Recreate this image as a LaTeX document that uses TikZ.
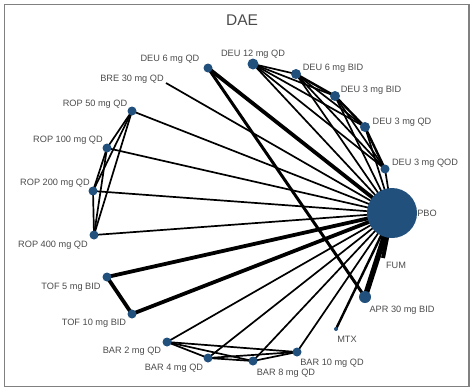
\documentclass[tikz,border=0pt]{standalone}
\usepackage{fontspec}
\setmainfont{Liberation Sans}
\usetikzlibrary{backgrounds}
\definecolor{nodeblue}{RGB}{33,80,125}
\definecolor{labelgray}{RGB}{75,75,75}
\begin{document}
\begin{tikzpicture}[x=1pt, y=-1pt,
trtnode/.style={circle, fill=nodeblue, inner sep=0pt, minimum size=9pt},
trtlabel/.style={text=labelgray, font=\fontsize{9.2}{10}\selectfont, inner sep=0pt},
thinedge/.style={line width=1.7pt},
midedge/.style={line width=2.4pt},
thickedge/.style={line width=3.8pt}]

\useasboundingbox (0,0) rectangle (474,391);
\draw[gray, line width=1.5pt] (4.5,4.5) rectangle (469,386.5);

\node[text=labelgray, font=\fontsize{15.5}{17}\selectfont](title) at (242, 20){DAE};

% treatments round the circle
\node[trtnode, minimum size=50pt](pbo) at (392, 213){};
\node[trtnode, minimum size=0pt](fum) at (383, 258){};
\node[trtnode, minimum size=12pt](apr) at (365, 297){};
\node[trtnode, minimum size=4pt](mtx) at (336, 329){};
\node[trtnode](bar10) at (297, 352){};
\node[trtnode](bar8) at (253, 361){};
\node[trtnode](bar4) at (208, 358){};
\node[trtnode](bar2) at (167, 342){};
\node[trtnode](tof10) at (132, 314){};
\node[trtnode](tof5) at (107, 277){};
\node[trtnode](rop400) at (94, 235){};
\node[trtnode](rop200) at (93, 191){};
\node[trtnode](rop100) at (107, 148){};
\node[trtnode](rop50) at (132, 111){};
\node[trtnode, minimum size=0pt](bre) at (166, 83){};
\node[trtnode](deu6qd) at (208, 68){};
\node[trtnode, minimum size=11pt](deu12qd) at (253, 64){};
\node[trtnode, minimum size=10pt](deu6bid) at (296, 74){};
\node[trtnode, minimum size=10pt](deu3bid) at (335, 96){};
\node[trtnode, minimum size=10pt](deu3qd) at (365, 127){};
\node[trtnode](deu3qod) at (385, 169){};

% labels
\node[trtlabel](lpbo) at (427, 213){PBO};
\node[trtlabel](lfum) at (396, 265){FUM};
\node[trtlabel](lapr) at (402, 310){APR 30 mg BID};
\node[trtlabel](lmtx) at (347, 339){MTX};
\node[trtlabel](lbar10) at (332, 363){BAR 10 mg QD};
\node[trtlabel](lbar8) at (286, 373){BAR 8 mg QD};
\node[trtlabel](lbar4) at (174, 368){BAR 4 mg QD};
\node[trtlabel](lbar2) at (132, 351){BAR 2 mg QD};
\node[trtlabel](ltof10) at (94, 323){TOF 10 mg BID};
\node[trtlabel](ltof5) at (71, 287){TOF 5 mg BID};
\node[trtlabel](lrop400) at (53, 245){ROP 400 mg QD};
\node[trtlabel](lrop200) at (55, 183){ROP 200 mg QD};
\node[trtlabel](lrop100) at (68, 140){ROP 100 mg QD};
\node[trtlabel](lrop50) at (95, 104){ROP 50 mg QD};
\node[trtlabel](lbre) at (132, 79){BRE 30 mg QD};
\node[trtlabel](ldeu6qd) at (170, 59){DEU 6 mg QD};
\node[trtlabel](ldeu12qd) at (253, 54){DEU 12 mg QD};
\node[trtlabel](ldeu6bid) at (333, 68){DEU 6 mg BID};
\node[trtlabel](ldeu3bid) at (371, 90){DEU 3 mg BID};
\node[trtlabel](ldeu3qd) at (402, 122){DEU 3 mg QD};
\node[trtlabel](ldeu3qod) at (425, 163){DEU 3 mg QOD};

\begin{scope}[on background layer]
% ROP
\draw[thinedge](rop50.center) -- (pbo.center);
\draw[thinedge](rop100.center) -- (pbo.center);
\draw[thinedge](rop200.center) -- (pbo.center);
\draw[thinedge](rop400.center) -- (pbo.center);
\draw[thinedge](rop50.center) -- (rop100.center);
\draw[thinedge](rop50.center) -- (rop200.center);
\draw[thinedge](rop50.center) -- (rop400.center);
\draw[thinedge](rop100.center) -- (rop200.center);
\draw[thinedge](rop100.center) -- (rop400.center);
\draw[thinedge](rop200.center) -- (rop400.center);
% BRE
\draw[thinedge](bre.center) -- (pbo.center);
% DEU
\draw[thickedge](deu6qd.center) -- (pbo.center);
\draw[midedge, line width=3pt](deu6qd.center) -- (apr.center);
\draw[thinedge](deu12qd.center) -- (pbo.center);
\draw[thinedge](deu12qd.center) -- (deu6bid.center);
\draw[thinedge](deu12qd.center) -- (deu3bid.center);
\draw[thinedge](deu12qd.center) -- (deu3qd.center);
\draw[thinedge](deu12qd.center) -- (deu3qod.center);
\draw[thinedge](deu6bid.center) -- (pbo.center);
\draw[midedge](deu6bid.center) -- (deu3bid.center);
\draw[thinedge](deu6bid.center) -- (deu3qd.center);
\draw[thinedge](deu6bid.center) -- (deu3qod.center);
\draw[thinedge](deu3bid.center) -- (pbo.center);
\draw[midedge](deu3bid.center) -- (deu3qd.center);
\draw[thinedge](deu3bid.center) -- (deu3qod.center);
\draw[thinedge](deu3qd.center) -- (pbo.center);
\draw[midedge](deu3qd.center) -- (deu3qod.center);
\draw[thinedge](deu3qod.center) -- (pbo.center);
% TOF
\draw[thickedge](tof5.center) -- (pbo.center);
\draw[thickedge](tof10.center) -- (pbo.center);
\draw[thickedge](tof5.center) -- (tof10.center);
% BAR
\draw[thinedge](bar2.center) -- (pbo.center);
\draw[thinedge](bar4.center) -- (pbo.center);
\draw[thinedge](bar8.center) -- (pbo.center);
\draw[thinedge](bar10.center) -- (pbo.center);
\draw[thinedge](bar2.center) -- (bar4.center);
\draw[thinedge](bar2.center) -- (bar8.center);
\draw[thinedge](bar2.center) -- (bar10.center);
\draw[thinedge](bar4.center) -- (bar8.center);
\draw[thinedge](bar4.center) -- (bar10.center);
\draw[thinedge](bar8.center) -- (bar10.center);
% others
\draw[midedge](mtx.center) -- (pbo.center);
\draw[line width=5.5pt](apr.center) -- (pbo.center);
\draw[line width=4pt](fum.center) -- (pbo.center);
\end{scope}

\end{tikzpicture}
\end{document}
